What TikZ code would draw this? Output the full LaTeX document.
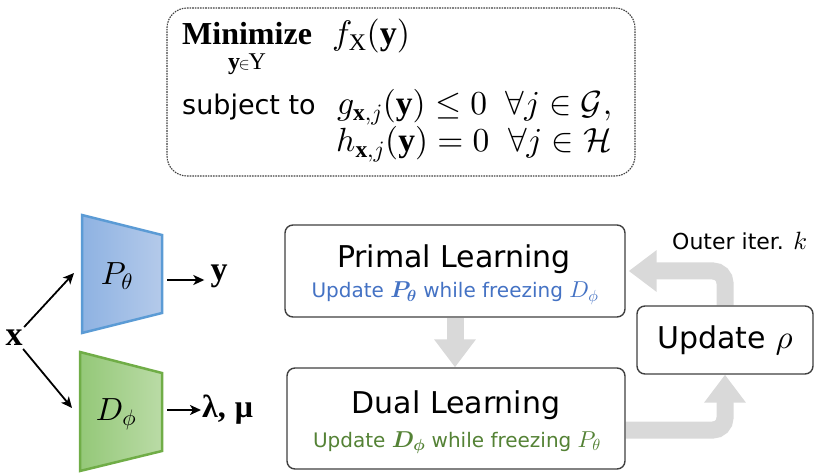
\documentclass[tikz,border=0pt]{standalone}
\usepackage{amsmath,bm}
\usepackage{fontspec}
\setmainfont{Liberation Serif}
\setsansfont{DejaVu Sans}
\DeclareFontShape{OT1}{cmr}{m}{n}{<->cmr10}{}
\DeclareFontShape{OT1}{cmr}{bx}{n}{<->cmbx10}{}
\DeclareFontShape{OML}{cmm}{m}{it}{<->cmmi10}{}
\DeclareFontShape{OML}{cmm}{b}{it}{<->cmmib10}{}
\DeclareFontShape{OMS}{cmsy}{m}{n}{<->cmsy10}{}
\DeclareFontShape{OMS}{cmsy}{b}{n}{<->cmbsy10}{}
\DeclareFontShape{OMX}{cmex}{m}{n}{<->cmex10}{}
\usetikzlibrary{arrows.meta,calc}
\definecolor{blueS}{HTML}{5B9BD5}
\definecolor{blueL}{HTML}{8EB2E2}
\definecolor{blueR}{HTML}{B4CAEA}
\definecolor{greenS}{HTML}{70AD47}
\definecolor{greenL}{HTML}{94C878}
\definecolor{greenR}{HTML}{BADBA6}
\definecolor{blueT}{HTML}{4472C4}
\definecolor{greenT}{HTML}{548235}
\definecolor{boxc}{HTML}{404040}
\definecolor{garc}{HTML}{D9D9D9}
\newcommand\fsz[1]{\fontsize{#1}{#1}\selectfont}
\newcommand\sm[1]{{\fsz{23}$#1$}}
\pgfdeclarelayer{bg}
\pgfsetlayers{bg,main}
\tikzset{
  box/.style={draw=boxc, line width=1.4pt, rounded corners=8pt, fill=white, inner sep=0pt},
  gar/.style={draw=garc, line width=17pt, -{Triangle[length=28pt,width=40pt]}},
  arr/.style={draw=black, line width=1.8pt, -{Stealth[length=11pt,width=10pt,inset=3pt]}},
  txt/.style={inner sep=0pt},
}
\begin{document}
\begin{tikzpicture}[x=1pt,y=-1pt]
\useasboundingbox (0,0) rectangle (825,473);

% problem box
\node[draw=boxc, line width=1.1pt, dash pattern=on 1.6pt off 1pt, rounded corners=20pt,
      minimum width=468pt, minimum height=168pt, inner sep=0pt] (prob) at (401,92) {};
\node[txt, anchor=base west, font=\fsz{32}] (mini) at (182,45) {\textbf{Minimize}};
\node[txt, anchor=base, font=\fsz{24}] (miny) at (247,70) {$\mathbf{y}\mkern-1mu{\scriptstyle\in}\mkern-1mu\mathrm{Y}$};
\node[txt, anchor=base west, font=\fsz{34}] (fx) at (332,45) {$f_{\mathrm{X}}(\mathbf{y})$};
\node[txt, anchor=base west, font=\sffamily\fsz{27}] (subj) at (182,115) {subject to};
\node[txt, anchor=base west, font=\fsz{33.5}] (gcon) at (337,115) {$g_{\mathbf{x},j}(\mathbf{y}) \leq 0 \;\; \forall j \in \mathcal{G},$};
\node[txt, anchor=base west, font=\fsz{33.5}] (hcon) at (336,152) {$h_{\mathbf{x},j}(\mathbf{y}) = 0 \;\; \forall j \in \mathcal{H}$};

% networks
\path[draw=blueS, line width=2.5pt, left color=blueL, right color=blueR]
  (82,215) -- (162,235) -- (162,313) -- (82,333) -- cycle;
\path[draw=greenS, line width=2.5pt, left color=greenL, right color=greenR]
  (80,352) -- (162,373) -- (162,451) -- (80,471) -- cycle;
\node[font=\fsz{32}] (P) at (117,276) {$P_\theta$};
\node[font=\fsz{32}] (D) at (116,414) {$D_\phi$};
\node[font=\fsz{34}, inner sep=3pt] (x) at (14,338) {\textbf{x}};
\node[font=\fsz{34}, inner sep=0pt] (yout) at (219,276) {\textbf{y}};
\node[font=\fsz{32}, inner sep=0pt, anchor=west] (lm) at (202,410) {\textbf{λ,\kern9pt μ}};
\coordinate (Pin) at (74,273);
\coordinate (Din) at (72,408);
\coordinate (Pout) at (167,280);
\coordinate (Dout) at (167,410);
\draw[arr] (x) -- (Pin);
\draw[arr] (x) -- (Din);
\draw[arr] (Pout) -- ([xshift=-6pt]yout.west |- Pout);
\draw[arr] (Dout) -- ([xshift=-1pt]lm.west |- Dout);

% learning boxes
\node[box, minimum width=340pt, minimum height=92pt] (primal) at (455,271) {};
\node[box, minimum width=338pt, minimum height=101pt] (dual) at (456,418.5) {};
\node[box, minimum width=176pt, minimum height=68pt, font=\sffamily\fsz{30}] (upd) at (725,340) {Update {\fsz{33}$\rho$}};
\node[txt, anchor=base, font=\sffamily\fsz{30}] (pt) at (454,268) {Primal Learning};
\node[txt, anchor=base, font=\sffamily\fsz{20}, text=blueT] (ps) at (455,298) {Update \sm{\bm{P_\theta}} while freezing \sm{D_\phi}};
\node[txt, anchor=base, font=\sffamily\fsz{30}] (dt) at (456,413) {Dual Learning};
\node[txt, anchor=base, font=\sffamily\fsz{20}, text=greenT] (ds) at (457,447) {Update \sm{\bm{D_\phi}} while freezing \sm{P_\theta}};
\node[txt, anchor=base west, font=\sffamily\fsz{22}] (outer) at (672,250) {Outer iter. {\fsz{25}$k$}};

\begin{pgfonlayer}{bg}
\draw[gar] (primal.south) -- (primal.south |- dual.north);
\draw[gar, rounded corners=12pt] ($(dual.east)+(0,11.5)$) -| (upd.south);
\draw[gar, rounded corners=12pt, shorten >=3pt] (upd.north) |- (primal.east);
\end{pgfonlayer}
\end{tikzpicture}
\end{document}
